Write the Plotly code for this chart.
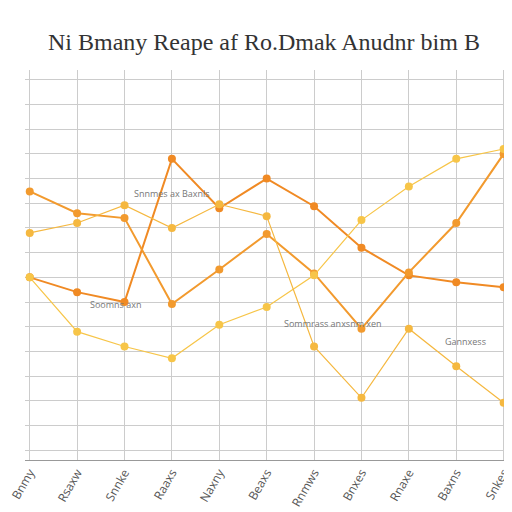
import plotly.graph_objects as go

cats = ["Bnmy", "Rsaxw", "Snnke", "Raaxs", "Naxny", "Beaxs", "Rnmws", "Bnxes", "Rnaxe", "Baxns", "Snkes"]
s1 = [270, 285, 295, 150, 200, 170, 198, 240, 268, 275, 280]
s2 = [183, 205, 210, 297, 262, 226, 266, 322, 265, 215, 145]
s3 = [270, 325, 340, 352, 318, 300, 268, 212, 178, 150, 140]
s4 = [225, 215, 197, 220, 196, 208, 340, 392, 322, 360, 397]

def v(p):
    return [470 - y for y in p]

fig = go.Figure()
for ys, c, w in [(s1, "#f08a24", 2), (s2, "#f29a2e", 2), (s3, "#f7c548", 1.2), (s4, "#f5b840", 1.2)]:
    fig.add_trace(go.Scatter(x=cats, y=v(ys), mode="lines+markers",
                             line=dict(color=c, width=w), marker=dict(size=8, color=c)))

for x, y, t in [(3, 285, "Snnmes ax Baxnls"), (1.8, 172, "Soomns axn"), (6.4, 153, "Sommrass anxsnm xen"), (9.2, 135, "Gannxess")]:
    fig.add_annotation(x=x, y=y, text=t, showarrow=False, font=dict(size=9, color="#777"))

fig.update_layout(
    width=512, height=512, showlegend=False,
    paper_bgcolor="white", plot_bgcolor="white",
    margin=dict(l=0, r=14, t=62, b=60),
    title=dict(text="Ni Bmany Reape af Ro.Dmak Anudnr bim B", x=0.5, xanchor="center", y=0.95,
               font=dict(family="Liberation Serif", size=24, color="#333")),
    xaxis=dict(showgrid=True, gridcolor="#ccc", tickangle=-60, tickfont=dict(size=12, color="#555"),
               range=[-0.1, 10.05], showline=True, linecolor="#999"),
    yaxis=dict(showgrid=True, gridcolor="#ccc", showticklabels=False, range=[15, 410], dtick=25,
               zeroline=False),
)
fig.write_html("out.html")
